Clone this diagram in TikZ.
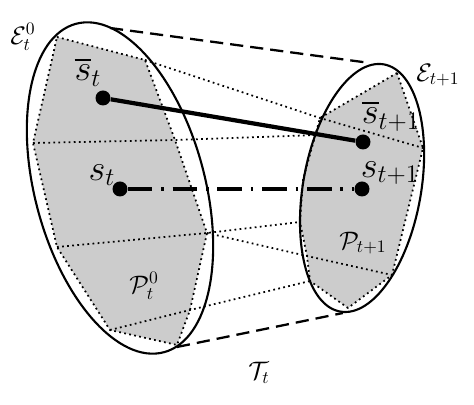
\documentclass[tikz,border=0pt]{standalone}
\usepackage{tikz}
\usepackage{amsmath}
\usetikzlibrary{positioning}

\tikzset{
  rim/.style={line width=1.2pt},
  gen/.style={line width=1pt,dash pattern=on 1pt off 1.9pt},
  hull/.style={line width=1.3pt,dash pattern=on 7.5pt off 4pt},
  dot/.style={circle,fill,inner sep=0pt,minimum size=0.3cm},
  lbl/.style={font=\Large},
  slbl/.style={font=\huge},
}

\begin{document}
\begin{tikzpicture}[x=0.02cm,y=0.02cm]
  \useasboundingbox (0,0) rectangle (474,405);
  \coordinate (cl) at (120,217);
  \coordinate (cr) at (362,217);

  % shaded sets
  \fill[gray!40] (57,368) -- (145,345) -- (175,265) -- (207,172) -- (190,95)
    -- (177,60) -- (110,75) -- (57,158) -- (33,262) -- cycle;
  \fill[gray!40] (397,332) -- (423,257) -- (392,130) -- (348,97) -- (310,124)
    -- (307,149) -- (300,183) -- (303,225) -- (320,287) -- cycle;
  \draw[gen] (57,368) -- (145,345) -- (175,265) -- (207,172) -- (190,95)
    -- (177,60) -- (110,75) -- (57,158) -- (33,262) -- cycle;
  \draw[gen] (397,332) -- (423,257) -- (392,130) -- (348,97) -- (310,124)
    -- (307,149) -- (300,183) -- (303,225) -- (320,287) -- cycle;

  % edges of the tube
  \draw[gen] (145,345) -- (320,287) -- (423,257);
  \draw[gen] (33,262) -- (175,265) -- (317,270);
  \draw[gen] (57,158) -- (207,172) -- (300,183);
  \draw[gen] (207,172) -- (307,149) -- (392,130);
  \draw[gen] (110,75) -- (190,95) -- (310,124);

  % the two ellipsoids
  \draw[rim,rotate around={15:(cl)}] (cl) ellipse [x radius=85,y radius=170];
  \draw[rim,rotate around={-10:(cr)}] (cr) ellipse [x radius=59,y radius=125.5];

  \coordinate (tl) at (110,377);
  \coordinate (tr) at (370,342);
  \coordinate (bl) at (177,58);
  \coordinate (br) at (343,92);
  \draw[hull] (tl) -- (tr);
  \draw[hull] (bl) -- (br);

  % states
  \node[dot] (sb0) at (103,307) {};
  \node[dot] (sb1) at (363,263) {};
  \node[dot] (s0) at (120,216) {};
  \node[dot] (s1) at (362,216) {};
  \draw[line width=2.4pt] (sb0) -- (sb1);
  \draw[line width=2.4pt,dash pattern=on 14pt off 5pt on 1.5pt off 5pt] (s0) -- (s1);

  \node[lbl] (E0) at (23,368) {$\mathcal{E}_t^0$};
  \node[slbl] (sbl0) at (88,333) {$\overline{s}_t$};
  \node[slbl] (sl0) at (102,230) {$s_t$};
  \node[lbl] (P0) at (144,119) {$\mathcal{P}_t^0$};
  \node[lbl] (E1) at (438,330) {$\mathcal{E}_{t+1}$};
  \node[slbl] (sbl1) at (391,289) {$\overline{s}_{t+1}$};
  \node[slbl] (sl1) at (390,232) {$s_{t+1}$};
  \node[lbl] (P1) at (363,162) {$\mathcal{P}_{t+1}$};
  \node[lbl] (T) at (259,32) {$\mathcal{T}_t$};
\end{tikzpicture}
\end{document}
